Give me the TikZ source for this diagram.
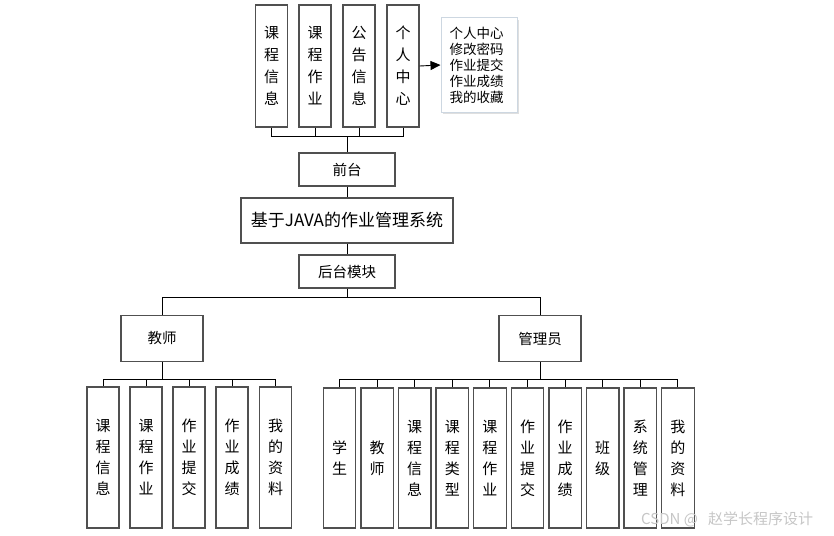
\documentclass[tikz,border=0pt]{standalone}
\usepackage{fontspec}
\setmainfont{Noto Sans CJK SC}
\newfontfamily\cjk{Noto Sans CJK SC}
\usetikzlibrary{arrows.meta,shadows}
\definecolor{bord}{RGB}{80,80,80}
\definecolor{lbord}{RGB}{205,215,225}
\tikzset{
  box/.style={draw=bord, line width=1.3pt, fill=white, inner sep=0pt, align=center},
  vbox/.style={box, minimum width=32pt, font=\cjk\fontsize{15}{21}\selectfont},
  topv/.style={vbox, minimum height=122pt, font=\cjk\fontsize{15}{22}\selectfont},
  tv/.style={vbox, minimum height=141pt},
  av/.style={vbox, minimum width=32.5pt, minimum height=140pt},
  hbox/.style={box, font=\cjk\fontsize{14.5}{17}\selectfont},
  conn/.style={draw=black, line width=0.9pt},
}
\begin{document}
\begin{tikzpicture}[x=1pt,y=-1pt]
\useasboundingbox (0,0) rectangle (834,535);
% top boxes
\node[topv] (tb1) at (271.5,66) {课\\程\\信\\息};
\node[topv] (tb2) at (315,66) {课\\程\\作\\业};
\node[topv] (tb3) at (359,66) {公\\告\\信\\息};
\node[topv] (tb4) at (403,66) {个\\人\\中\\心};
\node[draw=lbord, line width=1pt, fill=white, minimum width=76pt, minimum height=94pt,
      inner sep=0pt, align=left, font=\cjk\fontsize{13.5}{16}\selectfont,
      drop shadow={opacity=0.25, shadow xshift=2pt, shadow yshift=-2pt}] (info) at (479,65)
      {个人中心\\修改密码\\作业提交\\作业成绩\\我的收藏\hspace*{5pt}};
\draw[conn, -{Triangle[length=10pt,width=9pt]}] (tb4.east) -- (info.west);
% middle column
\node[hbox, minimum width=96pt, minimum height=33pt] (qt) at (347,169.5) {前台};
\node[hbox, minimum width=212pt, minimum height=45pt, font=\cjk\fontsize{17}{20}\selectfont] (sys) at (347,220.5) {基于JAVA的作业管理系统};
\node[hbox, minimum width=96pt, minimum height=33pt] (ht) at (347,271.5) {后台模块};
\node[hbox, minimum width=82pt, minimum height=46pt] (js) at (162,338.5) {教师};
\node[hbox, minimum width=82pt, minimum height=46pt] (gly) at (540,338.5) {管理员};
% teacher children
\node[tv] (t1) at (103,457.5) {课\\程\\信\\息};
\node[tv] (t2) at (146,457.5) {课\\程\\作\\业};
\node[tv] (t3) at (189,457.5) {作\\业\\提\\交};
\node[tv] (t4) at (232,457.5) {作\\业\\成\\绩};
\node[tv] (t5) at (275.5,457.5) {我\\的\\资\\料};
% admin children
\node[av] (a1) at (339.5,458) {学\\生};
\node[av] (a2) at (377.1,458) {教\\师};
\node[av] (a3) at (414.7,458) {课\\程\\信\\息};
\node[av] (a4) at (452.3,458) {课\\程\\类\\型};
\node[av] (a5) at (489.9,458) {课\\程\\作\\业};
\node[av] (a6) at (527.5,458) {作\\业\\提\\交};
\node[av] (a7) at (565.1,458) {作\\业\\成\\绩};
\node[av] (a8) at (602.7,458) {班\\级};
\node[av] (a9) at (640.3,458) {系\\统\\管\\理};
\node[av] (a10) at (677.9,458) {我\\的\\资\\料};
% junctions
\coordinate (tj) at (347,136);
\coordinate (hj) at (347,297);
\coordinate (jj) at (162,379);
\coordinate (gj) at (540,379);
% connectors
\foreach \n in {tb1,tb2,tb3,tb4} \draw[conn] (\n.south) |- (tj);
\draw[conn] (tj) -- (qt.north);
\draw[conn] (qt.south) -- (sys.north);
\draw[conn] (sys.south) -- (ht.north);
\draw[conn] (ht.south) -- (hj);
\draw[conn] (hj) -| (js.north);
\draw[conn] (hj) -| (gly.north);
\draw[conn] (js.south) -- (jj);
\foreach \n in {t1,t2,t3,t4,t5} \draw[conn] (jj) -| (\n.north);
\draw[conn] (gly.south) -- (gj);
\foreach \n in {a1,a2,a3,a4,a5,a6,a7,a8,a9,a10} \draw[conn] (gj) -| (\n.north);
% watermark
\node[text=gray!45, font=\cjk\fontsize{15}{17}\selectfont, anchor=west, inner sep=0pt] (wm) at (641,519) {CSDN @\hspace{10pt}赵学长程序设计};
\end{tikzpicture}
\end{document}
